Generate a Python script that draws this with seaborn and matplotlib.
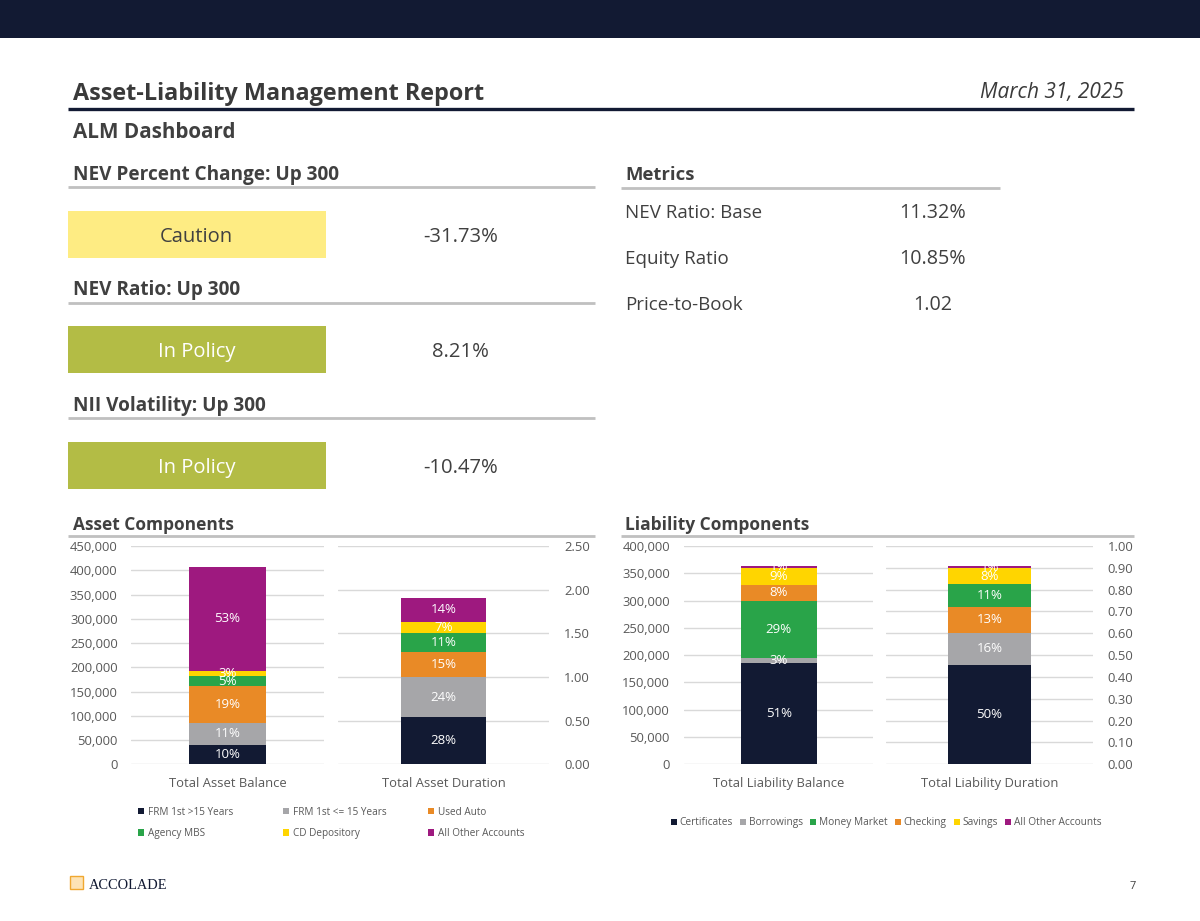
import numpy as np
import matplotlib
matplotlib.use("Agg")
import matplotlib.pyplot as plt
from matplotlib.patches import Rectangle
from matplotlib.lines import Line2D
from matplotlib.ticker import FuncFormatter, MultipleLocator
import seaborn as sns

# data
asset_categories = ["FRM 1st >15 Years", "FRM 1st <= 15 Years", "Used Auto",
                    "Agency MBS", "CD Depository", "All Other Accounts"]
asset_balance = [40000, 45000, 76000, 20000, 12000, 214000]
asset_duration = [0.54, 0.46, 0.29, 0.215, 0.13, 0.27]

liability_categories = ["Certificates", "Borrowings", "Money Market",
                        "Checking", "Savings", "All Other Accounts"]
liability_balance = [185000, 10000, 105000, 29000, 31000, 4000]
liability_duration = [0.455, 0.148, 0.103, 0.118, 0.073, 0.011]
# the duration bar stacks Checking below Money Market
liability_duration_order = [0, 1, 3, 2, 4, 5]

status_titles = ["NEV Percent Change: Up 300", "NEV Ratio: Up 300", "NII Volatility: Up 300"]
status_labels = ["Caution", "In Policy", "In Policy"]
status_values = ["-31.73%", "8.21%", "-10.47%"]

metric_names = ["NEV Ratio: Base", "Equity Ratio", "Price-to-Book"]
metric_values = ["11.32%", "10.85%", "1.02"]

NAVY = "#121a33"
GREY_BAR, ORANGE, GREEN = "#a6a6a9", "#e98a26", "#29a449"
YELLOW, PURPLE = "#ffd500", "#9e197f"
ASSET_COLORS = [NAVY, GREY_BAR, ORANGE, GREEN, YELLOW, PURPLE]
LIAB_COLORS = [NAVY, GREY_BAR, GREEN, ORANGE, YELLOW, PURPLE]
STATUS_COLORS = {"Caution": "#feec83", "In Policy": "#b3bc45"}
RULE = "#c0c0c0"
TEXT = "#404040"
AXIS_TXT = "#595959"
GRID = "#d9d9d9"

W, H = 1200, 921


def fx(x):
    return x / W


def fy(y):
    return 1 - y / H


def rect(l, t, r, b):
    return [fx(l), fy(b), (r - l) / W, (b - t) / H]


sns.set_theme(style="white")
plt.rcParams["font.family"] = ["Open Sans", "DejaVu Sans"]

fig = plt.figure(figsize=(12, 9.21), dpi=100)


def txt(x, y, s, size, weight="normal", ha="left", color=TEXT, style="normal", va="baseline", **kw):
    return fig.text(fx(x), fy(y), s, fontsize=size, fontweight=weight, ha=ha, va=va,
                    color=color, style=style, **kw)


def hline(x0, x1, y, color=RULE, lw=2.0):
    fig.add_artist(Line2D([fx(x0), fx(x1)], [fy(y), fy(y)], transform=fig.transFigure,
                          color=color, lw=lw, solid_capstyle="butt"))


def fbox(l, t, r, b, color, **kw):
    x, y, w, h = rect(l, t, r, b)
    fig.add_artist(Rectangle((x, y), w, h, transform=fig.transFigure, facecolor=color, lw=0, **kw))


# header
fbox(0, 0, W, 38, NAVY)
txt(73, 100, "Asset-Liability Management Report", 16.8, "bold", color="#3a3a3a")
txt(1124, 98, "March 31, 2025", 15, ha="right", style="italic", color="#3a3a3a")
hline(68, 1134, 109.3, NAVY, 2.4)
txt(73, 138, "ALM Dashboard", 14.9, "bold")

# status panels
for i, (title, lab, val) in enumerate(zip(status_titles, status_labels, status_values)):
    dy = i * 115.5
    txt(73, 180 + dy, title, 13.7, "bold")
    hline(68, 595, 187.5 + dy)
    fbox(67.6, 211 + dy, 325.8, 257.7 + dy, STATUS_COLORS[lab])
    txt(196.7, 241.5 + dy, lab, 14.5, ha="center",
        color=TEXT if lab == "Caution" else "white")
    txt(460.8, 241.5 + dy, val, 14.6, ha="center")

# metrics panel
txt(625, 180, "Metrics", 13.3, "bold")
hline(621, 1000, 188)
for i, (name, val) in enumerate(zip(metric_names, metric_values)):
    y = 217.7 + i * 46.2
    txt(625, y, name, 13.5)
    txt(933, y, val, 14.2, ha="center")

# chart section titles
txt(73, 530, "Asset Components", 12.5, "bold")
hline(68, 595, 536.2)
txt(625, 530, "Liability Components", 12.5, "bold")
hline(621, 1134, 536.2)


def stacked(ax, label, values, colors, width, order=None):
    if order is None:
        order = range(len(values))
    values = np.asarray([values[k] for k in order], dtype=float)
    colors = [colors[k] for k in order]
    cum = np.cumsum(values)
    # tallest first, each shorter cumulative bar is painted over it
    for c, col in reversed(list(zip(cum, colors))):
        sns.barplot(x=[label], y=[c], color=col, width=width, saturation=1,
                    errorbar=None, linewidth=0, ax=ax)
    total = cum[-1]
    for b, v in zip(cum - values, values):
        ax.text(0, b + v / 2, f"{v / total:.0%}", ha="center", va="center",
                color="white", fontsize=9.5)


def style(ax, top, step, fmt, right, pad):
    ax.set_xlim(-0.5, 0.5)
    ax.set_ylim(0, top)
    ax.yaxis.set_major_locator(MultipleLocator(step))
    ax.yaxis.set_major_formatter(FuncFormatter(fmt))
    ax.grid(axis="y", color=GRID, lw=1)
    ax.set_axisbelow(True)
    sns.despine(ax=ax, left=True, bottom=True)
    ax.set_xlabel("")
    ax.set_ylabel("")
    if right:
        ax.yaxis.tick_right()
    ax.tick_params(axis="y", length=0, labelsize=9.4, labelcolor=AXIS_TXT, pad=pad)
    ax.tick_params(axis="x", length=0, labelsize=9.4, labelcolor=AXIS_TXT, pad=9)


thousands = lambda v, p: f"{v:,.0f}"
two_dec = lambda v, p: f"{v:.2f}"

ax1 = fig.add_axes(rect(131, 546, 324, 764.3))
stacked(ax1, "Total Asset Balance", asset_balance, ASSET_COLORS, 0.4)
style(ax1, 450000, 50000, thousands, False, 9.6)

ax2 = fig.add_axes(rect(338, 546, 549, 764.3))
stacked(ax2, "Total Asset Duration", asset_duration, ASSET_COLORS, 0.4)
style(ax2, 2.5, 0.5, two_dec, True, 10.8)

ax3 = fig.add_axes(rect(684.4, 546, 873, 764.3))
stacked(ax3, "Total Liability Balance", liability_balance, LIAB_COLORS, 0.405)
style(ax3, 400000, 50000, thousands, False, 10.4)

ax4 = fig.add_axes(rect(886, 546, 1093, 764.3))
stacked(ax4, "Total Liability Duration", liability_duration, LIAB_COLORS, 0.4,
        liability_duration_order)
style(ax4, 1.0, 0.1, two_dec, True, 10.4)

# asset legend, 3 columns x 2 rows
for i, (name, col) in enumerate(zip(asset_categories, ASSET_COLORS)):
    x = 137.7 + 145 * (i % 3)
    y = 811 + 21.7 * (i // 3)
    fbox(x, y - 3.3, x + 6.6, y + 3.3, col)
    txt(x + 10, y + 3.6, name, 7.2, color=AXIS_TXT)

# liability legend, one row spread over the same width as the reference
renderer = fig.canvas.get_renderer()
items = [txt(0, 0, n, 7.3, color=AXIS_TXT) for n in liability_categories]
widths = [t.get_window_extent(renderer).width for t in items]
mark, mpad = 6.2, 2.6
gap = (431 - sum(widths) - 6 * (mark + mpad)) / 5
x = 670.6
for t, w, col in zip(items, widths, LIAB_COLORS):
    fbox(x, 821.7 - 3.1, x + mark, 821.7 + 3.1, col)
    t.set_position((fx(x + mark + mpad), fy(825.3)))
    x += mark + mpad + w + gap

# footer
fbox(70, 876, 83, 889, "#fde3b5")
fig.add_artist(Rectangle((fx(70), fy(889)), 13 / W, 13 / H, transform=fig.transFigure,
                         facecolor="none", edgecolor="#f0a830", lw=1))
txt(89, 888.5, "ACCOLADE", 10.4, color=NAVY, family="Liberation Serif")
txt(1133, 889, "7", 8, ha="center")

fig.savefig("out.png", dpi=100)
